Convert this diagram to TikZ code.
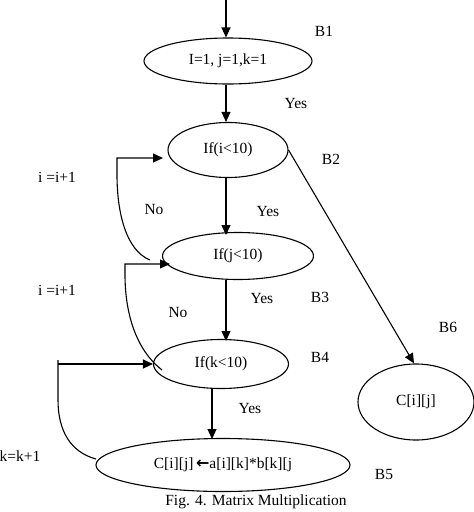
\documentclass[tikz,border=0pt]{standalone}
\usepackage{fontspec}
\setmainfont{Liberation Serif}
\usetikzlibrary{arrows.meta,shapes.geometric,calc}
\begin{document}
\begin{tikzpicture}[x=1pt,y=-1pt,
  oval/.style={draw,line width=1.1pt,ellipse,inner sep=0pt,font=\fontsize{15.5}{17}\selectfont},
  lbl/.style={font=\fontsize{15.5}{17}\selectfont,inner sep=0pt},
  line/.style={line width=1.1pt},
  flow/.style={line,-{Triangle[length=10pt,width=9pt]}}]
\useasboundingbox (0,0) rectangle (474,512);
\node[oval,minimum width=168pt,minimum height=46pt] (e1) at (228,61) {I=1, j=1,k=1};
\node[oval,minimum width=120pt,minimum height=55pt] (e2) at (228,150) {If(i<10)};
\node[oval,minimum width=151pt,minimum height=47pt] (e3) at (238,256) {If(j<10)};
\node[oval,minimum width=135pt,minimum height=49pt] (e4) at (221,364) {If(k<10)};
\node[oval,minimum width=254pt,minimum height=53pt] (e5) at (223,465) {C[i][j]\,{\fontspec{DejaVu Sans Bold}\fontsize{16}{17}\selectfont ←}a[i][k]*b[k][j};
\node[oval,minimum width=116pt,minimum height=76pt] (e6) at (416,402) {C[i][j]};
\coordinate (top) at (226,0);
\draw[flow] (top) -- (e1.north -| top);
\draw[flow] (e1.south -| top) -- (e2.north -| top);
\draw[flow] (e2.south -| top) -- ++(0,57);
\draw[flow] (e3.south -| top) -- ++(0,61);
\coordinate (d4) at (212,388);
\draw[flow] (d4) -- (212,439);
\draw[flow] (e2.east) -- ($(e6.north)+(-2,0)$);
% loops
\coordinate (l1s) at (150,260);
\draw[flow] (l1s) .. controls (125,250) and (117,210) .. (117,175) -- (117,158) -- (163,158);
\draw[flow] (162,370) .. controls (130,345) and (125,300) .. (125,275) -- (125,264) -- (170,264);
\draw[line] (96,459) .. controls (70,452) and (58,430) .. (58,400) -- (58,360);
\draw[flow] (58,364) -- (e4.west);
% labels
\node[lbl] (b1) at (324,31) {B1};
\node[lbl] (y1) at (296,103) {Yes};
\node[lbl] (b2) at (331,159) {B2};
\node[lbl] (i1) at (57,177) {i =i+1};
\node[lbl] (n1) at (154,209) {No};
\node[lbl] (y2) at (268,211) {Yes};
\node[lbl] (i2) at (57,290) {i =i+1};
\node[lbl] (n2) at (178,312) {No};
\node[lbl] (y3) at (262,298) {Yes};
\node[lbl] (b3) at (320,297) {B3};
\node[lbl] (b6) at (448,327) {B6};
\node[lbl] (b4) at (320,357) {B4};
\node[lbl] (y4) at (250,408) {Yes};
\node[lbl] (k1) at (20,456) {k=k+1};
\node[lbl] (b5) at (384,474) {B5};
\node[lbl] (cap) at (256,502) {Fig. 4. Matrix Multiplication};
\end{tikzpicture}
\end{document}
